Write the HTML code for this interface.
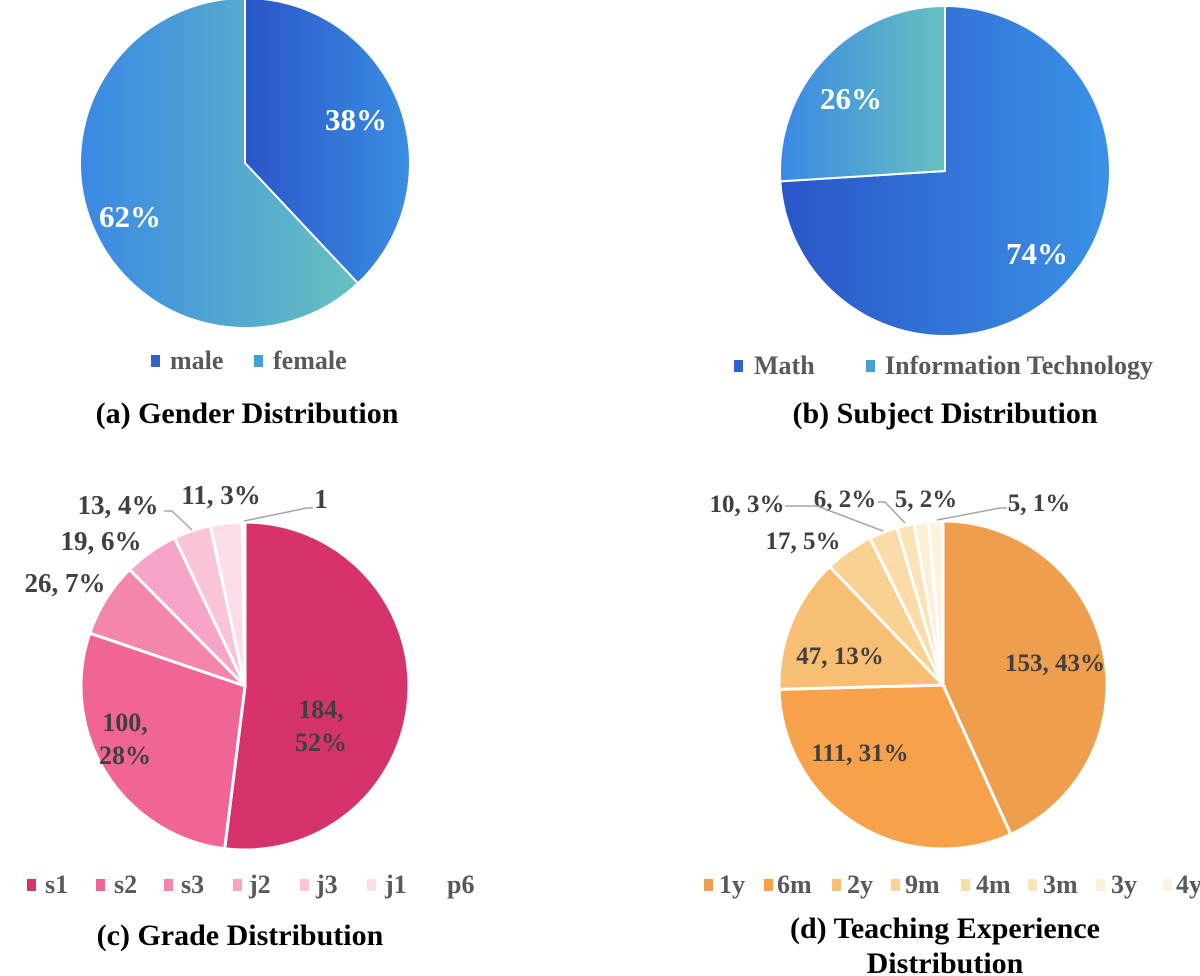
<!DOCTYPE html>
<html><head><meta charset="utf-8"><style>
html,body{margin:0;padding:0;background:#fff;}
svg{display:block;font-family:"Liberation Serif",serif;font-weight:bold;}
</style></head><body>
<svg id="c" width="1200" height="976" viewBox="0 0 1200 976">
<defs>
<linearGradient id="gMale" x1="0" y1="0" x2="1" y2="0"><stop offset="0" stop-color="#2a55c8"/><stop offset="1" stop-color="#3a8ee2"/></linearGradient>
<linearGradient id="gFemale" x1="0" y1="0" x2="1" y2="0"><stop offset="0" stop-color="#3a88e4"/><stop offset="1" stop-color="#66c1c0"/></linearGradient>
<linearGradient id="gMath" x1="0" y1="0" x2="1" y2="0"><stop offset="0" stop-color="#2a55c8"/><stop offset="1" stop-color="#3a92e6"/></linearGradient>
<linearGradient id="gIT" x1="0" y1="0" x2="1" y2="0"><stop offset="0" stop-color="#3a88e4"/><stop offset="1" stop-color="#66c1c0"/></linearGradient>
</defs>
<g font-size="30" fill="#000" text-anchor="middle">
<text x="247" y="423">(a) Gender Distribution</text>
<text x="945" y="423">(b) Subject Distribution</text>
<text x="240" y="945">(c) Grade Distribution</text>
<text x="945" y="938">(d) Teaching Experience</text>
<text x="945" y="973">Distribution</text>
</g>
</svg>
<script>
const genderCats=["male","female"];
const genderVals=[38,62];
const subjectCats=["Math","Information Technology"];
const subjectVals=[74,26];
const gradeCats=["s1","s2","s3","j2","j3","j1","p6"];
const gradeVals=[184,100,26,19,13,11,1];
const gradePct=["52%","28%","7%","6%","4%","3%",""];
const expCats=["1y","6m","2y","9m","4m","3m","3y","4y"];
const expVals=[153,111,47,17,10,6,5,5];
const expPct=["43%","31%","13%","5%","3%","2%","2%","1%"];

const svg=document.getElementById('c');
const NS='http://www.w3.org/2000/svg';
function mk(t,a,p){const e=document.createElementNS(NS,t);for(const k in a)e.setAttribute(k,a[k]);(p||svg).appendChild(e);return e;}
function pt(cx,cy,r,a){return [cx+r*Math.sin(a),cy-r*Math.cos(a)];}
function angleScale(vals,start){const tot=vals.reduce((s,v)=>s+v,0);let acc=start;return vals.map(v=>{const a0=acc;acc+=v/tot*2*Math.PI;return [a0,acc];});}
function slicePath(cx,cy,r,a0,a1){const p0=pt(cx,cy,r,a0),p1=pt(cx,cy,r,a1);const large=(a1-a0)>Math.PI?1:0;return `M${cx},${cy}L${p0[0]},${p0[1]}A${r},${r} 0 ${large} 1 ${p1[0]},${p1[1]}Z`;}

function drawPie(id,cx,cy,r,vals,cats,fills,start,sw){
  const g=mk('g',{});
  
  
  const ang=angleScale(vals,start);
  ang.forEach((a,i)=>{
    const p=mk('path',{d:slicePath(cx,cy,r,a[0],a[1]),fill:fills[i],stroke:'#fff','stroke-width':sw},g);
    
    
  });
  return ang;
}
function txt(x,y,s,size,fill,name,anchor){const t=mk('text',{x:x,y:y,'font-size':size,fill:fill,'text-anchor':anchor||'middle'});t.textContent=s;
  
  
  return t;}
function legend(items,cats,fills,y,name){
  items.forEach((it,i)=>{
    const r=mk('rect',{x:it[0],y:y-14,width:9,height:12,fill:fills[i]});
    
    
    txt(it[1],y,cats[i],26,'#595959',name+'-entry-'+cats[i].toLowerCase().replace(/\s+/g,'-'),'start');
  });
}
function leader(points,name){const e=mk('polyline',{points:points,fill:'none',stroke:'#a6a6a6','stroke-width':1.5});
  
  }

// (a)
const gFills=['url(#gMale)','url(#gFemale)'];
drawPie('gender',245,163,165,genderVals,genderCats,gFills,0,2);
const aLab=[[356,130],[130,227]];
genderVals.forEach((v,i)=>txt(aLab[i][0],aLab[i][1],v+'%',31,'#fff','gender-label-'+genderCats[i]));
legend([[151,170],[254,273]],genderCats,['#2f63d0','#45a0d8'],369,'gender-legend');

// (b)
const sFills=['url(#gMath)','url(#gIT)'];
drawPie('subject',945,171,165,subjectVals,subjectCats,sFills,0,2);
const bLab=[[1037,264],[851,109]];
subjectVals.forEach((v,i)=>txt(bLab[i][0],bLab[i][1],v+'%',31,'#fff','subject-label-'+i));
legend([[734,754],[866,885]],subjectCats,['#2f63d0','#45a0d8'],374,'subject-legend');

// (c)
const cFills=['#d6336c','#f06595','#f486ab','#f7a4c9','#f9c3d9','#fcdde8','#ffffff'];
drawPie('grade',245,686,164,gradeVals,gradeCats,cFills,0,3);
const cLab=[[321,718],[125,731],[65,592],[101,550],[118,514],[221,504],[321,508]];
gradeVals.forEach((v,i)=>{
  const name='grade-label-'+gradeCats[i];
  if(i<2){txt(cLab[i][0],cLab[i][1],v+',',26,'#404040',name+'-count');txt(cLab[i][0],cLab[i][1]+33,gradePct[i],26,'#404040',name+'-pct');}
  else if(gradePct[i]===''){txt(cLab[i][0],cLab[i][1],String(v),27,'#404040',name);}
  else txt(cLab[i][0],cLab[i][1],v+', '+gradePct[i],27,'#404040',name);
});
leader('164,511 172,511 192,530','grade-leader-j3');
leader('313,508 307,508 244,521','grade-leader-p6');
legend([[27,45],[96,114],[164,181],[233,249],[300,316],[367,385],[432,447]],gradeCats,cFills.slice(0,6).concat(['#ffffff']),893,'grade-legend');

// (d)
const dFills=['#ef9e4d','#f7a24a','#f7be74','#f9d192','#fbdca8','#fce3b7','#fdefd6','#fdf2de'];
drawPie('experience',943,685,164,expVals,expCats,dFills,0,3);
const dLab=[[1055,671],[860,761],[840,664],[803,549],[747,512],[845,507],[926,507],[1039,511]];
expVals.forEach((v,i)=>{txt(dLab[i][0],dLab[i][1],v+', '+expPct[i],25,'#404040','experience-label-'+expCats[i]);});
leader('785,506 817,506 883,531','experience-leader-4m');
leader('878,502 885,502 905,523','experience-leader-3m');
leader('1007,508 1000,508 937,520','experience-leader-4y');
legend([[704,719],[764,777],[832,847],[891,905],[961,976],[1028,1043],[1096,1111],[1163,1176]],expCats,dFills,893,'experience-legend');
</script>
</body></html>
